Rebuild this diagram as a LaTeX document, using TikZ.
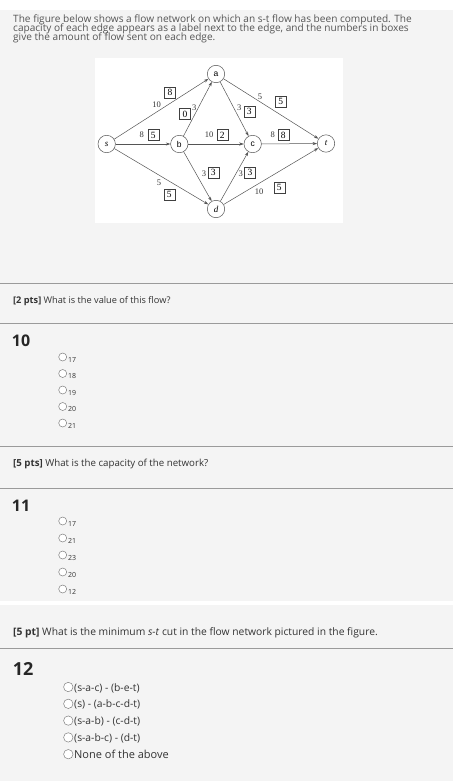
\documentclass[tikz,border=0pt]{standalone}
\usepackage{fontspec}
\setmainfont{Open Sans}
\newfontfamily\figserif{Liberation Serif}
\newfontfamily\figsans{Liberation Sans}
\usetikzlibrary{arrows.meta}
\definecolor{bgc}{HTML}{F4F4F4}
\definecolor{sepc}{HTML}{9A9A9A}
\definecolor{edgec}{HTML}{555555}
\definecolor{introc}{HTML}{555555}
\definecolor{txtc}{HTML}{333333}
\definecolor{radioc}{HTML}{808080}
\tikzset{
 vtx/.style={circle, draw=edgec, line width=0.5pt, minimum size=17.4pt, inner sep=0pt, fill=white},
 flowbox/.style={draw=black!75, line width=0.5pt, minimum width=11pt, minimum height=11pt, inner sep=0pt, fill=white, font=\figserif\fontsize{9.5}{10}\selectfont},
 capl/.style={inner sep=0pt, font=\figserif\fontsize{8.5}{9}\selectfont, text=black!80},
 arc/.style={draw=edgec, line width=0.5pt, -{Stealth[length=4.5pt,width=3pt]}},
 radio/.style={circle, draw=radioc, line width=0.5pt, minimum size=8pt, inner sep=0pt, fill=white},
 radiob/.style={circle, draw=radioc, line width=0.5pt, minimum size=9.4pt, inner sep=0pt, fill=white},
 sepline/.style={draw=sepc, line width=0.8pt},
 introtxt/.style={anchor=base west, inner sep=0pt, text=introc, font=\fontsize{10.1}{9}\selectfont},
 qtxt/.style={anchor=base west, inner sep=0pt, text=txtc, font=\fontsize{9.2}{10}\selectfont},
 qtxtm/.style={anchor=base west, inner sep=0pt, text=txtc, font=\fontsize{9.7}{10}\selectfont},
 qtxtb/.style={anchor=base west, inner sep=0pt, text=txtc, font=\fontsize{10.3}{12}\selectfont},
 qnum/.style={anchor=base west, inner sep=0pt, text=black!85, font=\bfseries\fontsize{16}{17}\selectfont},
 qnumb/.style={anchor=base west, inner sep=0pt, text=black!85, font=\bfseries\fontsize{18}{20}\selectfont},
 opt/.style={anchor=base west, inner sep=0pt, text=txtc, font=\fontsize{7}{8}\selectfont},
 optb/.style={anchor=base west, inner sep=0pt, text=txtc, font=\fontsize{10.3}{11}\selectfont},
 optc/.style={anchor=base west, inner sep=0pt, text=txtc, font=\fontsize{11}{12}\selectfont},
}
\begin{document}
\begin{tikzpicture}[x=1pt,y=-1pt]
\useasboundingbox (0,0) rectangle (453,781);
\fill[bgc] (0,0) rectangle (453,781);
\fill[white] (0,0) rectangle (453,10);
\fill[white] (0,601) rectangle (453,605);

% intro
\node[introtxt] (i1) at (13,22.5) {The figure below shows a flow network on which an s-t flow has been computed. The};
\node[introtxt] (i2) at (13,31.5) {capacity of each edge appears as a label next to the edge, and the numbers in boxes};
\node[introtxt] (i3) at (13,40.5) {give the amount of flow sent on each edge.};

% figure
\fill[white] (95,58) rectangle (343,223);
\node[vtx] (s) at (106.7,144) {\figserif\itshape\fontsize{9}{9}\selectfont s};
\node[vtx] (a) at (216,74) {\figsans\fontsize{8.5}{9}\selectfont a};
\node[vtx] (b) at (179.3,144) {\figsans\fontsize{8.5}{9}\selectfont b};
\node[vtx] (c) at (252.7,144) {\figsans\fontsize{8.5}{9}\selectfont c};
\node[vtx] (t) at (326,143.5) {\figserif\itshape\fontsize{9}{9}\selectfont t};
\node[vtx] (d) at (216,209) {\figserif\itshape\fontsize{9}{9}\selectfont d};

\draw[arc] (s) -- (a);
\draw[arc] (s) -- (b);
\draw[arc] (s) -- (d);
\draw[arc] (b) -- (a);
\draw[arc] (b) -- (c);
\draw[arc] (b) -- (d);
\draw[arc] (a) -- (c);
\draw[arc] (a) -- (t);
\draw[arc] (c) -- (t);
\draw[arc] (d) -- (c);
\draw[arc] (d) -- (t);

% capacities and flows
\node[capl] (csa) at (156.7,105) {10};
\node[flowbox] (fsa) at (170,92.3) {8};
\node[capl] (csb) at (141.7,135) {8};
\node[flowbox] (fsb) at (153.3,135) {5};
\node[capl] (csd) at (159,182.3) {5};
\node[flowbox] (fsd) at (169.3,194.3) {5};
\node[flowbox] (fba) at (185,114) {0};
\node[capl] (cba) at (194.3,107.7) {3};
\node[capl] (cac) at (239.3,107.7) {3};
\node[flowbox] (fac) at (249.3,111.7) {3};
\node[capl] (cat) at (260,96.7) {5};
\node[flowbox] (fat) at (280.7,101.7) {5};
\node[capl] (cbc) at (209,135) {10};
\node[flowbox] (fbc) at (222.3,135) {2};
\node[capl] (cct) at (272.7,135) {8};
\node[flowbox] (fct) at (283.3,135) {8};
\node[capl] (cbd) at (204,173.7) {3};
\node[flowbox] (fbd) at (213.3,172.3) {3};
\node[capl] (cdc) at (240.7,173.7) {3};
\node[flowbox] (fdc) at (250,172.3) {3};
\node[capl] (cdt) at (259,191.7) {10};
\node[flowbox] (fdt) at (279.3,187.7) {5};

% separators
\draw[sepline] (0,283) -- (453,283);
\draw[sepline] (0,323) -- (453,323);
\draw[sepline] (0,446) -- (453,446);
\draw[sepline] (0,488) -- (453,488);
\draw[sepline] (0,648) -- (453,648);

% Q10
\node[qtxt] (q1) at (13,303.5) {\textbf{[2 pts]} What is the value of this flow?};
\node[qnum] (n1) at (11.7,346) {10};
\foreach \yy/\vv [count=\k] in {357/17,373.5/18,390/19,406.5/20,423/21}{
  \node[radio] (r1\k) at (62.7,\yy) {};
  \node[opt] (o1\k) at (68,\yy+5) {\vv};
}

% Q11
\node[qtxtm] (q2) at (13,466) {\textbf{[5 pts]} What is the capacity of the network?};
\node[qnum] (n2) at (11.7,511) {11};
\foreach \yy/\vv [count=\k] in {521/17,538/21,555/23,572/20,589/12}{
  \node[radio] (r2\k) at (62.7,\yy) {};
  \node[opt] (o2\k) at (68,\yy+5) {\vv};
}

% Q12
\node[qtxtb] (q3) at (13,635.5) {\textbf{[5 pt]} What is the minimum \textit{s-t} cut in the flow network pictured in the figure.};
\node[qnumb] (n3) at (12.7,675) {12};
\foreach \yy/\vv [count=\k] in {687/{(s-a-c) - (b-e-t)},703.8/{(s) - (a-b-c-d-t)},720.6/{(s-a-b) - (c-d-t)},737.4/{(s-a-b-c) - (d-t)}}{
  \node[radiob] (r3\k) at (68.3,\yy) {};
  \node[optb] (o3\k) at (74,\yy+4) {\vv};
}
\node[radiob] (r35) at (68.3,754.2) {};
\node[optc] (o35) at (74,754.2+4) {None of the above};
\end{tikzpicture}
\end{document}
